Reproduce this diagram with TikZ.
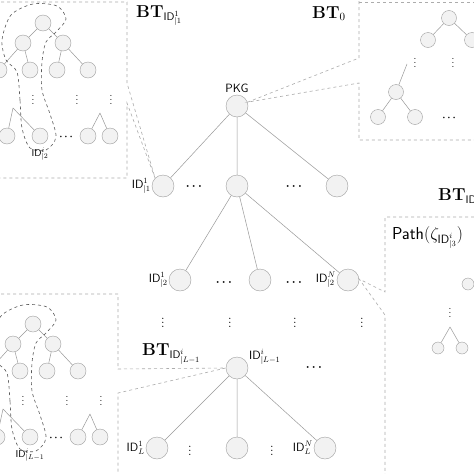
\documentclass[tikz,border=0pt]{standalone}
\usepackage{amsmath}
\usepackage{tikz}
\usetikzlibrary{
    calc,
    positioning
}
\newcommand{\pathtree}[3]{
    \begin{scope}[shift={(#2)}]
        \node[snode] (#1r) at (43, 23) {};
        \node[snode] (#1a) at (23, 43) {};
        \node[snode] (#1b) at (63, 43) {};
        \node[snode] (#1c0) at (-1, 70) {};
        \node[snode] (#1c1) at (30, 70) {};
        \node[snode] (#1c2) at (57, 70) {};
        \node[snode] (#1c3) at (88, 70) {};
        \draw[lnk] (#1r) -- (#1a) (#1r) -- (#1b) (#1a) -- (#1c0) (#1a) -- (#1c1) (#1b) -- (#1c2) (#1b) -- (#1c3);
        \node[sdts] at (33, 97) {$\vdots$};
        \node[sdts] at (77, 97) {$\vdots$};
        \node[sdts] at (111, 97) {$\vdots$};
        \coordinate (#1p) at (13, 108);
        \coordinate (#1q) at (100, 113);
        \node[snode] (#1d1) at (7, 136) {};
        \node[snode] (#1d2) at (40, 136) {};
        \node[snode] (#1d3) at (88, 136) {};
        \node[snode] (#1d4) at (110, 136) {};
        \node[sdts] at (67, 137) {$\cdots$};
        \draw[lnk] (#1p) -- (#1d1) (#1p) -- (#1d2) (#1q) -- (#1d3) (#1q) -- (#1d4);
        \draw[lasso] plot[smooth cycle] coordinates {(22, 128) (20, 100) (17, 72) (6, 60) (2, 40) (11, 15) (33, 4) (57, 6) (66, 19) (56, 32) (46, 42) (42, 62) (42, 90) (50, 114) (56, 137) (46, 150) (30, 148)};
        \node[slbl, below=3pt of #1d2] {#3};
    \end{scope}
}

\begin{document}
\begin{tikzpicture}[x=1pt, y=-1pt,
    mnode/.style={circle, draw=gray!75, fill=gray!10, minimum size=22pt, inner sep=0pt},
    snode/.style={circle, draw=gray!75, fill=gray!10, minimum size=16pt, inner sep=0pt},
    tnode/.style={circle, draw=gray!75, fill=gray!10, minimum size=15pt, inner sep=0pt},
    rnode/.style={circle, draw=gray!75, fill=gray!10, minimum size=12pt, inner sep=0pt},
    lnk/.style={gray!80, line width=0.5pt},
    bx/.style={gray!65, dashed, line width=0.6pt},
    lasso/.style={gray!70!black, dashed, line width=0.6pt},
    lbl/.style={font=\fontsize{12}{14}\selectfont, inner sep=1pt},
    slbl/.style={font=\fontsize{10}{12}\selectfont, inner sep=0pt},
    dts/.style={font=\fontsize{13}{15}\selectfont\boldmath, inner sep=0pt},
    sdts/.style={font=\fontsize{10}{12}\selectfont\boldmath, inner sep=0pt},
    ttl/.style={font=\fontsize{16}{18}\selectfont, inner sep=0pt, anchor=base west}]
    \clip (0, 0) rectangle (474, 474);
    \fill[white] (0, 0) rectangle (474, 474);
    % main tree
    \node[mnode, label={[lbl, label distance=1pt]above:$\mathsf{PKG}$}] (pkg) at (237, 106) {};
    \node[mnode, label={[lbl, label distance=0pt]left:$\mathsf{ID}^1_{|1}$}] (u1) at (163, 186) {};
    \node[mnode] (u2) at (237, 186) {};
    \node[mnode] (u3) at (337, 186) {};
    \node[dts] at (195, 187) {$\cdots$};
    \node[dts] at (295, 187) {$\cdots$};
    \draw[lnk] (pkg) -- (u1) (pkg) -- (u2) (pkg) -- (u3);
    \node[mnode, label={[lbl, label distance=0pt]left:$\mathsf{ID}^1_{|2}$}] (v1) at (180, 280) {};
    \node[mnode] (v2) at (260, 280) {};
    \node[mnode, label={[lbl, label distance=0pt]left:$\mathsf{ID}^N_{|2}$}] (v3) at (348, 280) {};
    \node[dts] at (225, 283) {$\cdots$};
    \node[dts] at (295, 283) {$\cdots$};
    \draw[lnk] (u2) -- (v1) (u2) -- (v2) (u2) -- (v3);
    \foreach \x in {163, 230, 295, 362}
        \node[dts] at (\x, 320) {$\vdots$};
    \node[mnode, label={[lbl, label distance=0pt]10:$\mathsf{ID}^i_{|L-1}$}] (w) at (237, 368) {};
    \node[dts] at (315, 368) {$\cdots$};
    \node[mnode, label={[lbl, label distance=0pt]left:$\mathsf{ID}^1_{L}$}] (z1) at (157, 448) {};
    \node[mnode] (z2) at (237, 448) {};
    \node[mnode, label={[lbl, label distance=0pt]left:$\mathsf{ID}^N_{L}$}] (z3) at (325, 448) {};
    \node[dts] at (190, 448) {$\vdots$};
    \node[dts] at (272, 448) {$\vdots$};
    \draw[lnk] (w) -- (z1) (w) -- (z2) (w) -- (z3);
    % zoom boxes
    \draw[bx] (-5, 2) -- (127, 2) -- (127, 83) -- (u1.135) -- (127, 103) -- (127, 178) -- (-5, 178);
    \draw[bx] (359, -5) -- (359, 58) -- (pkg.20) -- (359, 83) -- (359, 140) -- (480, 140);
    \draw[bx] (359, 2) -- (480, 2);
    \draw[bx] (480, 217) -- (385, 217) -- (385, 292) -- (v3.5) -- (385, 315) -- (385, 480);
    \draw[bx] (-5, 294) -- (118, 294) -- (118, 369) -- (w.180) -- (118, 393) -- (118, 480);
    \node[ttl] at (136, 17) {$\mathbf{BT}_{\mathsf{ID}^1_{|1}}$};
    \node[ttl] at (312, 18) {$\mathbf{BT}_0$};
    \node[ttl] at (438, 200) {$\mathbf{BT}_{\mathsf{ID}^i_{|3}}$};
    \node[ttl] at (142, 355) {$\mathbf{BT}_{\mathsf{ID}^i_{|L-1}}$};
    % insets
    \pathtree{tl}{0, 0}{$\mathsf{ID}^i_{|2}$}
    \pathtree{bl}{-10, 301}{$\mathsf{ID}^i_{|L-1}$}
    \node[tnode] (k0) at (449, 18) {};
    \node[tnode] (k1) at (428, 40) {};
    \node[tnode] (k2) at (472, 40) {};
    \draw[lnk] (k0) -- (k1) (k0) -- (k2);
    \node[sdts] at (415, 60) {$\vdots$};
    \node[sdts] at (453, 60) {$\vdots$};
    \coordinate (k3) at (407, 64);
    \node[tnode] (k4) at (396, 92) {};
    \node[tnode] (k5) at (378, 117) {};
    \node[tnode] (k6) at (415, 117) {};
    \draw[lnk] (k3) -- (k4) (k4) -- (k5) (k4) -- (k6);
    \node[sdts] at (450, 118) {$\cdots$};
    \node[ttl, font=\fontsize{17}{19}\selectfont] at (392, 239) {$\mathsf{Path}(\zeta_{\mathsf{ID}^i_{|3}})$};
    \node[rnode] (q0) at (468, 284) {};
    \node[sdts] at (450, 310) {$\vdots$};
    \coordinate (q1) at (450, 327);
    \node[rnode] (q2) at (438, 348) {};
    \node[rnode] (q3) at (462, 348) {};
    \draw[lnk] (q1) -- (q2) (q1) -- (q3);
\end{tikzpicture}
\end{document}
